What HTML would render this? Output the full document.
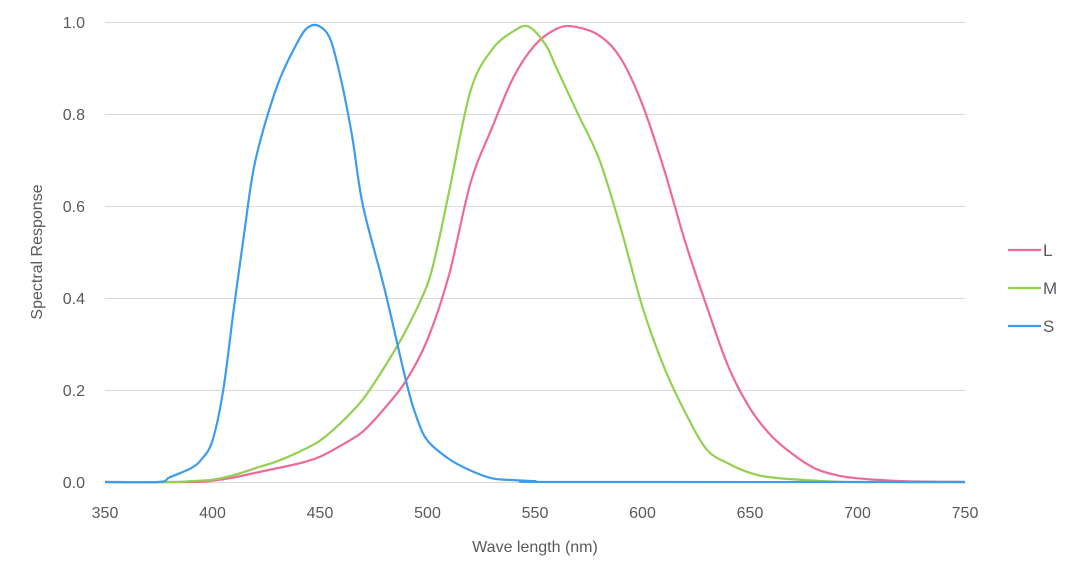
<!DOCTYPE html>
<html><head><meta charset="utf-8"><style>
body{margin:0;background:#fff;}
svg text{font-family:"Liberation Sans",sans-serif;fill:#595959;}
</style></head><body>
<svg id="c" width="1080" height="579" xmlns="http://www.w3.org/2000/svg">
<g stroke="#d9d9d9" stroke-width="1">
<line x1="105" x2="965" y1="22.5" y2="22.5"/><line x1="105" x2="965" y1="114.5" y2="114.5"/>
<line x1="105" x2="965" y1="206.5" y2="206.5"/><line x1="105" x2="965" y1="298.5" y2="298.5"/>
<line x1="105" x2="965" y1="390.5" y2="390.5"/><line x1="105" x2="965" y1="482.5" y2="482.5"/>
</g>
<g font-size="16" text-anchor="end">
<text x="85" y="28">1.0</text><text x="85" y="120">0.8</text><text x="85" y="212">0.6</text>
<text x="85" y="304">0.4</text><text x="85" y="396">0.2</text><text x="85" y="488">0.0</text>
</g>
<g font-size="16" text-anchor="middle">
<text x="105" y="518">350</text><text x="212.5" y="518">400</text><text x="320" y="518">450</text>
<text x="427.5" y="518">500</text><text x="535" y="518">550</text><text x="642.5" y="518">600</text>
<text x="750" y="518">650</text><text x="857.5" y="518">700</text><text x="965" y="518">750</text>
<text x="535" y="552">Wave length (nm)</text>
<text transform="translate(42 252) rotate(-90)">Spectral Response</text>
</g>
<path id="L" fill="none" stroke="#ee6a95" stroke-width="2.2"/>
<path id="M" fill="none" stroke="#92d050" stroke-width="2.2"/>
<path id="S" fill="none" stroke="#3c9cf0" stroke-width="2.2"/>
<line x1="1008" x2="1041" y1="250" y2="250" stroke="#ee6a95" stroke-width="2.2"/>
<line x1="1008" x2="1041" y1="288" y2="288" stroke="#92d050" stroke-width="2.2"/>
<line x1="1008" x2="1041" y1="326" y2="326" stroke="#3c9cf0" stroke-width="2.2"/>
<g font-size="17"><text x="1043" y="256">L</text><text x="1043" y="294">M</text><text x="1043" y="332">S</text></g>
</svg>
<script>
var D={
S:[[350,0],[375,0],[380,0.01],[390,0.03],[395,0.05],[400,0.09],[405,0.2],[410,0.38],[415,0.55],[420,0.7],[430,0.86],[440,0.96],[445,0.99],[450,0.99],[455,0.96],[460,0.87],[465,0.75],[470,0.6],[480,0.42],[490,0.22],[495,0.14],[500,0.09],[510,0.05],[520,0.025],[530,0.008],[540,0.004],[550,0.002],[560,0],[750,0]],
M:[[350,0],[380,0],[390,0.002],[400,0.005],[410,0.015],[420,0.03],[430,0.045],[440,0.065],[450,0.09],[460,0.13],[470,0.18],[480,0.25],[490,0.33],[500,0.43],[505,0.52],[510,0.63],[520,0.85],[530,0.94],[540,0.98],[547,0.99],[555,0.95],[560,0.9],[570,0.8],[580,0.7],[590,0.55],[600,0.38],[610,0.25],[620,0.15],[630,0.07],[640,0.04],[650,0.02],[660,0.01],[680,0.003],[700,0],[750,0]],
L:[[350,0],[390,0],[400,0.003],[410,0.01],[420,0.02],[430,0.03],[440,0.04],[450,0.055],[460,0.08],[470,0.11],[480,0.16],[490,0.22],[500,0.31],[510,0.45],[520,0.65],[530,0.77],[540,0.88],[550,0.95],[560,0.985],[568,0.99],[580,0.97],[590,0.92],[600,0.82],[610,0.68],[620,0.52],[630,0.38],[640,0.25],[650,0.16],[660,0.1],[670,0.06],[680,0.03],[690,0.015],[700,0.008],[720,0.002],[750,0]]};
function X(n){return 105+(n-350)*2.15}function Y(v){return 482-v*460}
for(var k in D){var p=D[k].map(function(a){return[X(a[0]),Y(a[1])]});var d="M"+p[0][0]+","+p[0][1];
for(var i=0;i<p.length-1;i++){var p0=p[i-1]||p[i],p1=p[i],p2=p[i+1],p3=p[i+2]||p2;
d+=" C"+(p1[0]+(p2[0]-p0[0])/6)+","+(p1[1]+(p2[1]-p0[1])/6)+" "+(p2[0]-(p3[0]-p1[0])/6)+","+(p2[1]-(p3[1]-p1[1])/6)+" "+p2[0]+","+p2[1];}
document.getElementById(k).setAttribute("d",d);}
</script>
</body></html>
